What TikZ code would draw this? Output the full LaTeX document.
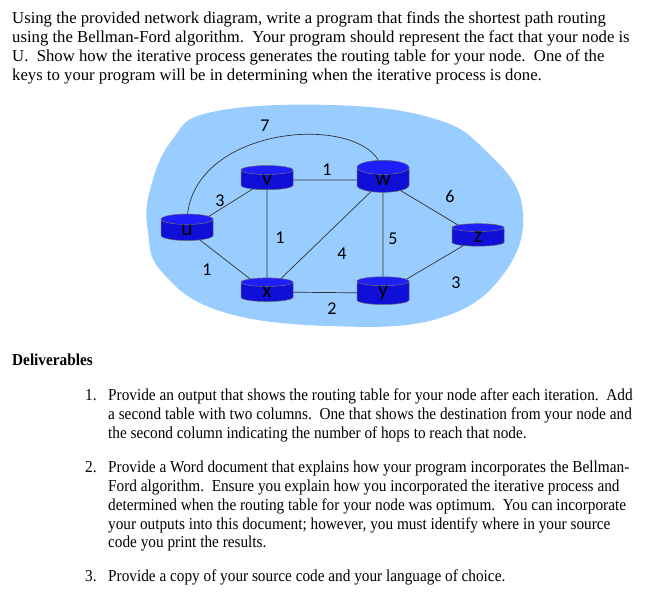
\documentclass[tikz,border=0pt]{standalone}
\usepackage{fontspec}
\usetikzlibrary{shapes.geometric}
\setmainfont{Liberation Serif}
\newfontfamily\lblfont{Carlito}
\begin{document}
\begin{tikzpicture}[x=1pt,y=-1pt,
  txt/.style={anchor=base west,inner sep=0pt,font=\fontsize{16.7}{18}\selectfont},
  itm/.style={txt,xscale=0.915},
  lbl/.style={font=\lblfont\fontsize{18}{18}\selectfont,inner sep=0pt},
  router/.style={cylinder,shape border rotate=90,aspect=0.9,minimum width=52pt,minimum height=18pt,inner sep=0pt,
    draw=black!60,line width=0.5pt,cylinder uses custom fill,cylinder body fill=rblue,cylinder end fill=rtop,
    font=\lblfont\fontsize{22}{22}\selectfont,text=black},
  link/.style={draw=black!80,line width=0.7pt}]
\useasboundingbox (0,0) rectangle (670,614);
\fill[white] (0,0) rectangle (670,614);
\definecolor{blob}{RGB}{153,204,255}
\definecolor{rblue}{RGB}{15,15,215}
\definecolor{rtop}{RGB}{30,30,250}
\fill[blob] plot[smooth cycle,tension=0.7] coordinates {(150,190) (172,140) (212,112) (330,105) (432,118) (485,150) (522,205) (505,272) (440,318) (330,326) (220,311) (162,272) (148,232)};
\coordinate (uc) at (187,230);
\coordinate (vc) at (267,180);
\coordinate (wc) at (383,180);
\coordinate (zc) at (478,237);
\coordinate (xc) at (267,292);
\coordinate (yc) at (383,293);
\path[link] (uc) -- (vc) (uc) -- (xc) (vc) -- (wc) (vc) -- (xc) (wc) -- (xc) (wc) -- (yc) (wc) -- (zc) (xc) -- (yc) (yc) -- (zc);
\path[link] (187,225) .. controls (185,120) and (380,110) .. (383,175);
\node[router] (u) at (uc) {u};
\node[router] (v) at (vc) {v};
\node[router] (w) at (wc) {w};
\node[router] (z) at (zc) {z};
\node[router] (x) at (xc) {x};
\node[router] (y) at (yc) {y};
\node[lbl] (l7) at (265,126) {7};
\node[lbl] (l1a) at (327,170) {1};
\node[lbl] (l3a) at (220,201) {3};
\node[lbl] (l1b) at (280,238) {1};
\node[lbl] (l4) at (342,254) {4};
\node[lbl] (l5) at (393,239) {5};
\node[lbl] (l6) at (450,196) {6};
\node[lbl] (l3b) at (456,283) {3};
\node[lbl] (l1c) at (207,270) {1};
\node[lbl] (l2) at (332,309) {2};
\node[txt] (t1) at (12,23) {Using the provided network diagram, write a program that finds the shortest path routing};
\node[txt] (t2) at (12,42) {using the Bellman-Ford algorithm.\ \ Your program should represent the fact that your node is};
\node[txt] (t3) at (12,61) {U.\ \ Show how the iterative process generates the routing table for your node.\ \ One of the};
\node[txt] (t4) at (12,80) {keys to your program will be in determining when the iterative process is done.};
\node[itm,font=\fontsize{16.7}{18}\selectfont\bfseries] (d) at (12,365) {Deliverables};
\node[itm] (n1) at (85,400) {1.};
\node[itm] (a1) at (108,400) {Provide an output that shows the routing table for your node after each iteration.\ \ Add};
\node[itm] (a2) at (108,419) {a second table with two columns.\ \ One that shows the destination from your node and};
\node[itm] (a3) at (108,438) {the second column indicating the number of hops to reach that node.};
\node[itm] (n2) at (85,472) {2.};
\node[itm] (b1) at (108,472) {Provide a Word document that explains how your program incorporates the Bellman-};
\node[itm] (b2) at (108,491) {Ford algorithm.\ \ Ensure you explain how you incorporated the iterative process and};
\node[itm] (b3) at (108,510) {determined when the routing table for your node was optimum.\ \ You can incorporate};
\node[itm] (b4) at (108,529) {your outputs into this document; however, you must identify where in your source};
\node[itm] (b5) at (108,547) {code you print the results.};
\node[itm] (n3) at (85,581) {3.};
\node[itm] (c1) at (108,581) {Provide a copy of your source code and your language of choice.};
\end{tikzpicture}
\end{document}
